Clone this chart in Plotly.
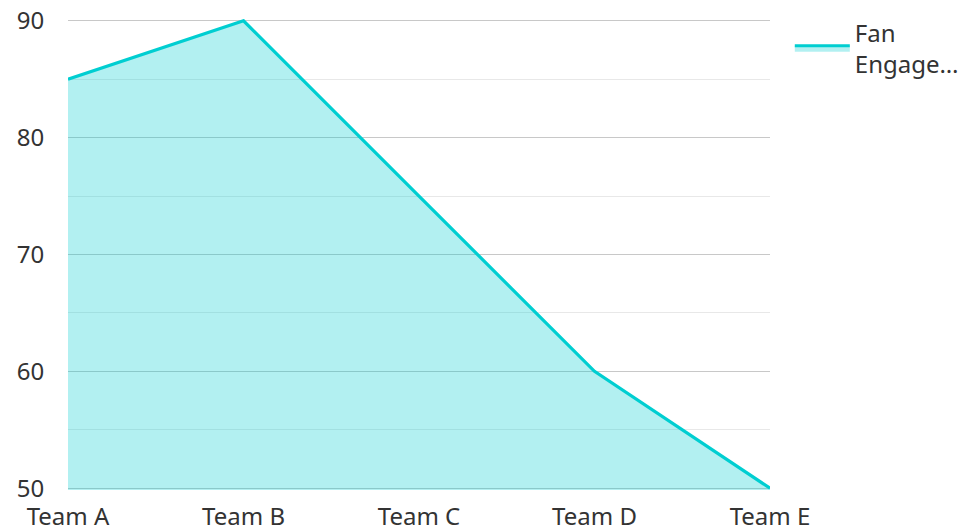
import plotly.graph_objects as go

teams = ["Team A", "Team B", "Team C", "Team D", "Team E"]
engagement = [85, 90, 75, 60, 50]
series_name = "Fan<br>Engage…"

fig = go.Figure()
fig.add_trace(go.Scatter(
    x=teams, y=engagement, name=series_name, mode="lines",
    line=dict(color="#00CED1", width=3.2),
    fill="tozeroy", fillcolor="rgba(0,206,209,0.3)",
))

fig.update_layout(
    width=962, height=529,
    margin=dict(l=68, r=192, t=19, b=39),
    paper_bgcolor="white", plot_bgcolor="white",
    font=dict(family="Noto Sans", size=24, color="#333333"),
    showlegend=True,
    legend=dict(x=0.821, xref="container", y=0.981, yref="container",
                xanchor="left", yanchor="top", itemwidth=55,
                font=dict(size=24, color="#333333"), tracegroupgap=0),
    xaxis=dict(type="category", range=[0, 4], showgrid=False, zeroline=False,
               showline=False, ticks="outside", ticklen=5, tickcolor="rgba(0,0,0,0)",
               automargin=False),
    yaxis=dict(range=[49.85, 90.15], dtick=10, showgrid=True, gridcolor="#c8c8c8", gridwidth=1,
               zeroline=False, showline=False, ticks="outside", ticklen=18,
               tickcolor="rgba(0,0,0,0)", automargin=False,
               minor=dict(dtick=5, showgrid=True, gridcolor="#e8e8e8")),
)

fig.write_html("out.html", config={"displayModeBar": False},
               post_script="document.body.style.margin='0';document.body.style.overflow='hidden';")
